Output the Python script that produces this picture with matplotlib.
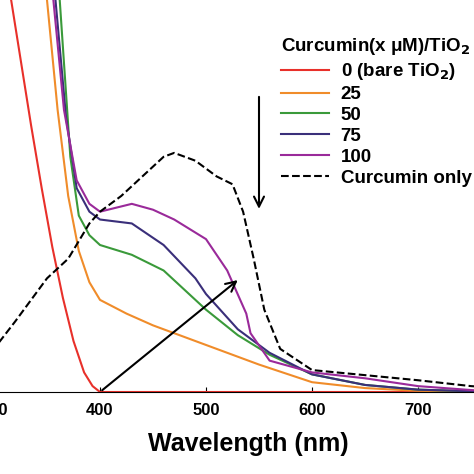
import numpy as np
import matplotlib
matplotlib.use("Agg")
import matplotlib.pyplot as plt

plt.rcParams['font.family'] = ['Liberation Sans', 'DejaVu Sans']
plt.rcParams['font.weight'] = 'bold'

# --- data (absorbance, arbitrary units) ---
red_x = [300, 315, 325, 335, 345, 355, 365, 375, 385, 393, 400, 780]
red_y = [1.2, 1.02, 0.85, 0.68, 0.52, 0.37, 0.24, 0.13, 0.05, 0.015, 0.0, 0.0]

or_x = [340, 350, 360, 370, 380, 390, 400, 425, 450, 500, 550, 600, 650, 700, 780]
or_y = [1.3, 1.0, 0.72, 0.5, 0.36, 0.28, 0.235, 0.2, 0.17, 0.12, 0.07, 0.025, 0.01, 0.003, 0.0]

gr_x = [350, 362, 372, 380, 390, 400, 430, 460, 480, 500, 530, 560, 600, 650, 700, 750, 780]
gr_y = [1.3, 1.0, 0.6, 0.45, 0.4, 0.375, 0.35, 0.31, 0.26, 0.21, 0.145, 0.095, 0.045, 0.018, 0.006, 0.002, 0.0]

nv_x = [345, 358, 368, 378, 390, 400, 430, 460, 490, 500, 530, 560, 600, 650, 700, 750, 780]
nv_y = [1.3, 1.0, 0.7, 0.52, 0.46, 0.44, 0.43, 0.375, 0.29, 0.25, 0.16, 0.1, 0.045, 0.018, 0.006, 0.002, 0.0]

pu_x = [345, 356, 366, 378, 390, 400, 430, 450, 470, 500, 520, 538, 542, 560, 600, 650, 700, 750, 780]
pu_y = [1.3, 1.0, 0.72, 0.54, 0.48, 0.46, 0.48, 0.465, 0.44, 0.39, 0.31, 0.2, 0.15, 0.08, 0.05, 0.035, 0.015, 0.005, 0.0]

cu_x = [300, 320, 350, 370, 390, 400, 420, 440, 460, 470, 490, 510, 525, 535, 545, 555, 570, 600, 650, 700, 750, 780]
cu_y = [0.11, 0.18, 0.29, 0.34, 0.43, 0.46, 0.5, 0.55, 0.6, 0.61, 0.59, 0.55, 0.53, 0.46, 0.34, 0.21, 0.11, 0.056, 0.043, 0.03, 0.015, 0.01]

fig = plt.figure(figsize=(4.74, 4.74), dpi=100)
ax = fig.add_axes([-6 / 474, 82 / 474, 480 * 1.06 / 474, 392 / 474])

ax.plot(red_x, red_y, color='#e8302a', lw=1.5, label='0 (bare TiO$_2$)')
ax.plot(or_x, or_y, color='#f08c2a', lw=1.5, label='25')
ax.plot(gr_x, gr_y, color='#3a9a3a', lw=1.5, label='50')
ax.plot(nv_x, nv_y, color='#3a2f7a', lw=1.5, label='75')
ax.plot(pu_x, pu_y, color='#9a2a9a', lw=1.5, label='100')
ax.plot(cu_x, cu_y, color='black', lw=1.5, ls='--', label='Curcumin only')

# arrows: increasing dye loading / decreasing band edge
ax.annotate('', xy=(532, 0.29), xytext=(400, 0.0),
            arrowprops=dict(arrowstyle='->', color='black', lw=1.5, mutation_scale=18))
ax.annotate('', xy=(550, 0.46), xytext=(550, 0.76),
            arrowprops=dict(arrowstyle='->', color='black', lw=1.5, mutation_scale=18))

ax.set_xlim(300, 780)
ax.set_ylim(0, 1.0)
ax.set_xticks([300, 400, 500, 600, 700])
ax.set_yticks([])
ax.tick_params(axis='x', direction='in', labelsize=12, pad=8)
for s in ['top', 'right']:
    ax.spines[s].set_visible(False)
ax.set_xlabel('Wavelength (nm)', fontsize=18, fontweight='bold', labelpad=10)

leg = ax.legend(loc='upper left', bbox_to_anchor=(0.53, 0.95), frameon=False,
                title='Curcumin(x μM)/TiO$_2$', fontsize=13.5, title_fontsize=13.5,
                handlelength=2.6, labelspacing=0.2, handletextpad=0.6)
leg.get_title().set_fontweight('bold')
leg._legend_box.align = 'left'

fig.savefig('out.png', dpi=100)
